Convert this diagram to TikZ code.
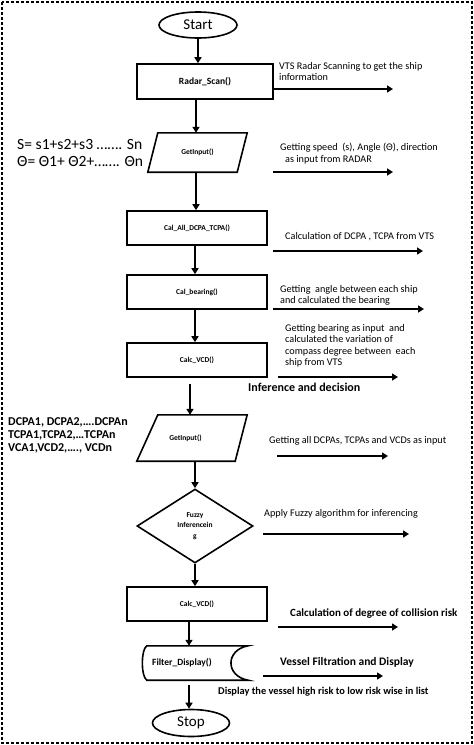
\documentclass[tikz,border=0pt]{standalone}
\usepackage{fontspec}
\setmainfont{Carlito}
\usetikzlibrary{shapes.geometric,arrows.meta,calc}
\tikzset{
  outline/.style={line width=1.6pt},
  box/.style={draw, outline, minimum width=140pt, minimum height=34pt, inner sep=0pt, font=\bfseries\fontsize{7.5}{9}\selectfont},
  term/.style={draw, outline, ellipse, inner sep=0pt, font=\fontsize{15}{18}\selectfont},
  paraframe/.style={inner sep=0pt, font=\bfseries\fontsize{7.5}{9}\selectfont},
  arr/.style={line width=1.8pt, -{Triangle[length=6pt,width=7pt]}},
  side/.style={anchor=base west, inner sep=0pt, align=left, font=\fontsize{10.2}{11.5}\selectfont},
  sidebold/.style={anchor=base west, inner sep=0pt, align=left, font=\bfseries\fontsize{11}{13}\selectfont},
  frame/.style={line width=2pt, dash pattern=on 3pt off 2pt},
}
\begin{document}
\begin{tikzpicture}[x=1pt,y=-1pt]
\useasboundingbox (0,0) rectangle (474,745);
\draw[frame] (2,2) rectangle (472,743);

% columns for vertical connectors
\coordinate (c196) at (196,0);
\coordinate (c195) at (195,0);
\coordinate (c190) at (190,0);
\coordinate (c189) at (189,0);

% flow nodes
\node[term, minimum width=78pt, minimum height=26pt] (start) at (198,25) {Start};
\node[box, minimum width=136pt, minimum height=35pt, font=\bfseries\fontsize{9.5}{11}\selectfont] (radar) at (205,81.5) {Radar\_Scan()};

\node[paraframe, minimum width=99pt, minimum height=39pt] (gi1) at (197.5,152.5) {GetInput()};
\draw[outline] ($(gi1.north west)+(10,0)$) -- (gi1.north east) -- ($(gi1.south east)+(-10,0)$) -- (gi1.south west) -- cycle;

\node[box] (calall) at (197,228) {Cal\_All\_DCPA\_TCPA()};
\node[box] (bearing) at (197,292) {Cal\_bearing()};
\node[box] (vcd) at (197,360) {Calc\_VCD()};

\node[paraframe, minimum width=110pt, minimum height=46pt] (gi2) at (192,438) {GetInput()\hspace*{13pt}};
\draw[outline] ($(gi2.north west)+(21,0)$) -- (gi2.north east) -- ($(gi2.south east)+(-12,0)$) -- (gi2.south west) -- cycle;

\node[draw, outline, diamond, minimum width=116pt, minimum height=74pt, inner sep=0pt, align=center, font=\bfseries\fontsize{7.5}{10.5}\selectfont] (fuzzy) at (195,526) {Fuzzy\\Inferencein\\g};
\node[box] (vcd2) at (197,604) {Calc\_VCD()};

\node[minimum width=105pt, minimum height=34pt, inner sep=0pt] (filter) at (195.5,663) {};
\node[inner sep=0pt, font=\bfseries\fontsize{9.5}{11}\selectfont] (filtlbl) at (182,663) {Filter\_Display()};
\draw[outline] ($(filter.north west)+(4,0)$) -- (filter.north east)
  .. controls ($(filter.north east)+(-23,4)$) and ($(filter.south east)+(-23,-4)$) .. (filter.south east)
  -- ($(filter.south west)+(4,0)$)
  .. controls ($(filter.south west)+(-2,-4)$) and ($(filter.north west)+(-2,4)$) .. ($(filter.north west)+(4,0)$) -- cycle;
\node[term, minimum width=77pt, minimum height=27pt] (stop) at (191,723) {Stop};

% vertical connectors
\draw[arr] (start.south) -- (start.south |- radar.north);
\draw[arr] (radar.south -| c196) -- (gi1.north -| c196);
\draw[arr] (gi1.south -| c196) -- (calall.north -| c196);
\draw[arr] (calall.south -| c195) -- (bearing.north -| c195);
\draw[arr] (bearing.south -| c195) -- (vcd.north -| c195);
\draw[arr, shorten <=6pt] (vcd.south -| c190) -- (gi2.north -| c190);
\draw[arr] (gi2.south -| c195) -- (fuzzy.north);
\draw[arr] (fuzzy.south) -- (vcd2.north -| fuzzy.south);
\draw[arr] (vcd2.south -| c189) -- (filter.north -| c189);
\draw[arr, shorten <=5pt] (filter.south -| c189) -- (stop.north -| c189);

% side arrows
\coordinate (s1a) at (273,89);  \coordinate (s1b) at (393,89);
\coordinate (s2a) at (273,172); \coordinate (s2b) at (393,172);
\coordinate (s3a) at (273,251); \coordinate (s3b) at (423,251);
\coordinate (s4a) at (273,309); \coordinate (s4b) at (424,309);
\coordinate (s5a) at (278,377); \coordinate (s5b) at (398,377);
\coordinate (s6a) at (277,456); \coordinate (s6b) at (388,456);
\coordinate (s7a) at (263,534); \coordinate (s7b) at (409,534);
\coordinate (s8a) at (278,627); \coordinate (s8b) at (398,627);
\coordinate (s9a) at (263,676); \coordinate (s9b) at (383,676);
\foreach \i in {1,...,9} {\draw[arr] (s\i a) -- (s\i b);}

% side texts (base anchor = baseline of the last line)
\node[side] (t1) at (279,80.5) {VTS Radar Scanning to get the ship\\information};
\node[side, font=\fontsize{10.2}{12}\selectfont] (t2) at (280,162) {Getting speed \ (s), Angle (Θ), direction\\\hspace*{5pt}as input from RADAR};
\node[side] (t3) at (285,239) {Calculation of DCPA , TCPA from VTS};
\node[side] (t4) at (280,303.5) {Getting \ angle between each ship\\and calculated the bearing};
\node[side] (t5) at (285,365.5) {Getting bearing as input \ and\\calculated the variation of\\compass degree between \ each\\ship from VTS};
\node[sidebold, font=\bfseries\fontsize{12}{14}\selectfont] (t6) at (248,391) {Inference and decision};
\node[side] (t9) at (269,443) {Getting all DCPAs, TCPAs and VCDs as input};
\node[side] (t10) at (264,516) {Apply Fuzzy algorithm for inferencing};
\node[sidebold] (t11) at (290,616) {Calculation of degree of collision risk};
\node[sidebold, font=\bfseries\fontsize{11.5}{13}\selectfont] (t12) at (280,665) {Vessel Filtration and Display};
\node[sidebold, font=\bfseries\fontsize{10.4}{12}\selectfont] (t13) at (218,694) {Display the vessel high risk to low risk wise in list};

% left texts
\node[anchor=base west, inner sep=0pt, align=left, font=\fontsize{15.6}{17}\selectfont] (t7) at (17,166) {S= s1+s2+s3 ……. Sn\\Θ= Θ1+ Θ2+……. Θn};
\node[anchor=base west, inner sep=0pt, align=left, font=\bfseries\fontsize{12}{13}\selectfont] (t8) at (8,451) {DCPA1, DCPA2,….DCPAn\\TCPA1,TCPA2,…TCPAn\\VCA1,VCD2,…., VCDn};
\end{tikzpicture}
\end{document}
